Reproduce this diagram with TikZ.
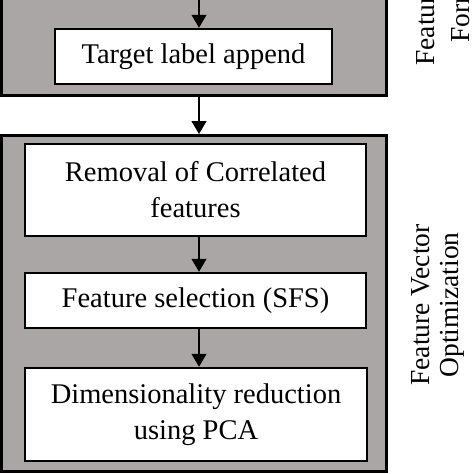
\documentclass[tikz,border=0pt]{standalone}
\usepackage{fontspec}
\setmainfont{Liberation Serif}
\usetikzlibrary{arrows.meta}
\definecolor{grpgray}{RGB}{170,166,166}
\tikzset{
  stepbox/.style={draw,line width=2.5pt,fill=white,align=center,inner sep=2pt,
    font=\fontsize{28.5}{36}\selectfont},
  groupbox/.style={draw,line width=3pt,fill=grpgray,inner sep=0pt},
  sidelabel/.style={rotate=90,align=center,inner sep=0pt,
    font=\fontsize{27.5}{28.5}\selectfont},
  arr/.style={line width=1.3pt,-{Triangle[width=15pt,length=13pt]}}
}
\begin{document}
\begin{tikzpicture}[x=1pt,y=1pt]
\useasboundingbox (0,0) rectangle (474,-474);
\clip (0,0) rectangle (474,-474);
% groups
\node[groupbox,minimum width=385pt,minimum height=155.5pt] (formgrp) at (194,-17.75) {};
\node[groupbox,minimum width=385pt,minimum height=336pt] (optgrp) at (194,-303.5) {};
% steps
\node[stepbox,minimum width=277pt,minimum height=55pt] (target) at (193.5,-56.5) {Target label append};
\node[stepbox,minimum width=341pt,minimum height=92pt] (removal) at (195.5,-190) {Removal of Correlated\\features};
\node[stepbox,minimum width=341pt,minimum height=55pt] (sfs) at (195.5,-300.5) {Feature selection (SFS)};
\node[stepbox,minimum width=342pt,minimum height=93pt] (pca) at (196,-414.5) {Dimensionality reduction\\using PCA};
% side labels
\node[sidelabel,font=\fontsize{27.5}{35}\selectfont] (formlbl) at (443,15) {Feature Vector\\Formation};
\node[sidelabel] (optlbl) at (438,-305) {Feature Vector\\Optimization};
% arrows
\coordinate (ax) at (199,0);
\coordinate (in) at (199,5);
\draw[arr] (in) -- (target.north -| in);
\draw[arr] (formgrp.south -| ax) -- (optgrp.north -| ax);
\draw[arr] (removal.south -| ax) -- (sfs.north -| ax);
\draw[arr] (sfs.south -| ax) -- (pca.north -| ax);
\end{tikzpicture}
\end{document}
